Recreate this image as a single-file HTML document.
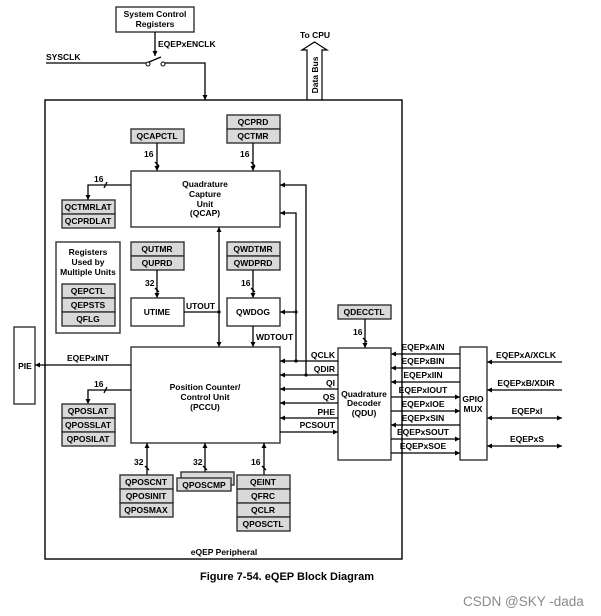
<!DOCTYPE html>
<html><head><meta charset="utf-8"><style>
html,body{margin:0;padding:0;background:#fff;}
svg{display:block;}
text{font-family:"Liberation Sans",Arial,sans-serif;font-weight:bold;font-size:8.5px;fill:#000;}
.r{fill:#d9d9d9;stroke:#333;stroke-width:1.4;}
.w{fill:#fff;stroke:#333;stroke-width:1.4;}
.l{stroke:#000;stroke-width:1.3;fill:none;}
</style></head><body>
<svg width="601" height="616" viewBox="0 0 601 616" xmlns="http://www.w3.org/2000/svg">
<defs>
<marker id="a" viewBox="0 0 10 10" refX="10" refY="5" markerWidth="5" markerHeight="5" orient="auto-start-reverse" markerUnits="userSpaceOnUse"><path d="M0,0 L10,5 L0,10 z" fill="#000"/></marker>
</defs>
<rect class="w" x="116" y="7" width="78" height="25"/>
<text x="155" y="17" text-anchor="middle">System Control</text>
<text x="155" y="27" text-anchor="middle">Registers</text>
<line class="l" x1="155" y1="32" x2="155" y2="56" marker-end="url(#a)"/>
<text x="158" y="47">EQEPxENCLK</text>
<text x="46" y="60">SYSCLK</text>
<line class="l" x1="46" y1="63" x2="146" y2="63"/>
<circle cx="148" cy="64" r="2" fill="#fff" stroke="#000"/>
<circle cx="163" cy="64" r="2" fill="#fff" stroke="#000"/>
<line class="l" x1="149" y1="62" x2="161" y2="57"/>
<polyline class="l" points="165,63 205,63 205,100" marker-end="url(#a)"/>
<path d="M307,100 L307,50 L302,50 L314.5,42 L327,50 L322,50 L322,100" fill="#fff" stroke="#000" stroke-width="1.2"/>
<text x="315" y="38" text-anchor="middle">To CPU</text>
<text transform="translate(318,75) rotate(-90)" text-anchor="middle">Data Bus</text>
<rect x="45" y="100" width="357" height="459" fill="none" stroke="#000" stroke-width="1.4"/>
<text x="224" y="555" text-anchor="middle">eQEP Peripheral</text>
<rect class="r" x="131" y="129" width="53" height="14"/><text x="157" y="139" text-anchor="middle">QCAPCTL</text>
<rect class="r" x="227" y="115" width="53" height="14"/><text x="253" y="125" text-anchor="middle">QCPRD</text>
<rect class="r" x="227" y="129" width="53" height="14"/><text x="253" y="139" text-anchor="middle">QCTMR</text>
<line class="l" x1="157" y1="143" x2="157" y2="171" marker-end="url(#a)"/><text x="144" y="157">16</text><line class="l" x1="155" y1="162" x2="159" y2="166"/>
<line class="l" x1="253" y1="143" x2="253" y2="171" marker-end="url(#a)"/><text x="240" y="157">16</text><line class="l" x1="251" y1="162" x2="255" y2="166"/>
<rect class="w" x="131" y="171" width="149" height="56"/>
<text x="205" y="187" text-anchor="middle">Quadrature</text>
<text x="205" y="197" text-anchor="middle">Capture</text>
<text x="205" y="207" text-anchor="middle">Unit</text>
<text x="205" y="216" text-anchor="middle">(QCAP)</text>
<polyline class="l" points="131,185 88,185 88,200" marker-end="url(#a)"/><text x="94" y="182">16</text><line class="l" x1="104" y1="188" x2="107" y2="182"/>
<rect class="r" x="62" y="200" width="53" height="14"/><text x="88" y="210" text-anchor="middle">QCTMRLAT</text>
<rect class="r" x="62" y="214" width="53" height="14"/><text x="88" y="224" text-anchor="middle">QCPRDLAT</text>
<rect class="w" x="56" y="242" width="64" height="91"/>
<text x="88" y="255" text-anchor="middle">Registers</text>
<text x="88" y="265" text-anchor="middle">Used by</text>
<text x="88" y="275" text-anchor="middle">Multiple Units</text>
<rect class="r" x="62" y="284" width="53" height="14"/><text x="88" y="294" text-anchor="middle">QEPCTL</text>
<rect class="r" x="62" y="298" width="53" height="14"/><text x="88" y="308" text-anchor="middle">QEPSTS</text>
<rect class="r" x="62" y="312" width="53" height="14"/><text x="88" y="322" text-anchor="middle">QFLG</text>
<rect class="r" x="131" y="242" width="53" height="14"/><text x="157" y="252" text-anchor="middle">QUTMR</text>
<rect class="r" x="131" y="256" width="53" height="14"/><text x="157" y="266" text-anchor="middle">QUPRD</text>
<line class="l" x1="157" y1="270" x2="157" y2="298" marker-end="url(#a)"/><text x="145" y="286">32</text><line class="l" x1="155" y1="288" x2="159" y2="292"/>
<rect class="w" x="131" y="298" width="53" height="28"/><text x="157" y="315" text-anchor="middle">UTIME</text>
<line class="l" x1="184" y1="312" x2="219" y2="312"/><text x="186" y="309">UTOUT</text>
<line class="l" x1="219" y1="227" x2="219" y2="347" marker-start="url(#a)" marker-end="url(#a)"/>
<circle cx="219" cy="312" r="1.6"/>
<rect class="r" x="227" y="242" width="53" height="14"/><text x="253" y="252" text-anchor="middle">QWDTMR</text>
<rect class="r" x="227" y="256" width="53" height="14"/><text x="253" y="266" text-anchor="middle">QWDPRD</text>
<line class="l" x1="253" y1="270" x2="253" y2="298" marker-end="url(#a)"/><text x="241" y="286">16</text><line class="l" x1="251" y1="288" x2="255" y2="292"/>
<rect class="w" x="227" y="298" width="53" height="28"/><text x="253" y="315" text-anchor="middle">QWDOG</text>
<line class="l" x1="253" y1="326" x2="253" y2="347" marker-end="url(#a)"/><text x="256" y="340">WDTOUT</text>
<polyline class="l" points="306,375 306,185 280,185" marker-end="url(#a)"/>
<polyline class="l" points="296,361 296,213 280,213" marker-end="url(#a)"/>
<line class="l" x1="296" y1="312" x2="280" y2="312" marker-end="url(#a)"/>
<circle cx="296" cy="312" r="1.6"/><circle cx="296" cy="361" r="1.6"/><circle cx="306" cy="375" r="1.6"/>
<rect class="w" x="131" y="347" width="149" height="96"/>
<text x="205" y="390" text-anchor="middle">Position Counter/</text>
<text x="205" y="400" text-anchor="middle">Control Unit</text>
<text x="205" y="410" text-anchor="middle">(PCCU)</text>
<rect class="w" x="14" y="327" width="21" height="77"/><text x="25" y="369" text-anchor="middle">PIE</text>
<line class="l" x1="131" y1="365" x2="35" y2="365" marker-end="url(#a)"/><text x="67" y="361">EQEPxINT</text>
<polyline class="l" points="131,390 88,390 88,404" marker-end="url(#a)"/><text x="94" y="387">16</text><line class="l" x1="104" y1="393" x2="107" y2="387"/>
<rect class="r" x="62" y="404" width="53" height="14"/><text x="88" y="414" text-anchor="middle">QPOSLAT</text>
<rect class="r" x="62" y="418" width="53" height="14"/><text x="88" y="428" text-anchor="middle">QPOSSLAT</text>
<rect class="r" x="62" y="432" width="53" height="14"/><text x="88" y="442" text-anchor="middle">QPOSILAT</text>
<line class="l" x1="147" y1="475" x2="147" y2="443" marker-end="url(#a)"/><text x="134" y="465">32</text><line class="l" x1="145" y1="466" x2="149" y2="470"/>
<rect class="r" x="120" y="475" width="53" height="14"/><text x="146" y="485" text-anchor="middle">QPOSCNT</text>
<rect class="r" x="120" y="489" width="53" height="14"/><text x="146" y="499" text-anchor="middle">QPOSINIT</text>
<rect class="r" x="120" y="503" width="53" height="14"/><text x="146" y="513" text-anchor="middle">QPOSMAX</text>
<line class="l" x1="205" y1="472" x2="205" y2="443" marker-end="url(#a)"/><text x="193" y="465">32</text><line class="l" x1="203" y1="466" x2="207" y2="470"/>
<rect class="r" x="181" y="472" width="53" height="13"/>
<rect class="r" x="177" y="478" width="54" height="13"/><text x="204" y="488" text-anchor="middle">QPOSCMP</text>
<line class="l" x1="264" y1="475" x2="264" y2="443" marker-end="url(#a)"/><text x="251" y="465">16</text><line class="l" x1="262" y1="466" x2="266" y2="470"/>
<rect class="r" x="237" y="475" width="53" height="14"/><text x="263" y="485" text-anchor="middle">QEINT</text>
<rect class="r" x="237" y="489" width="53" height="14"/><text x="263" y="499" text-anchor="middle">QFRC</text>
<rect class="r" x="237" y="503" width="53" height="14"/><text x="263" y="513" text-anchor="middle">QCLR</text>
<rect class="r" x="237" y="517" width="53" height="14"/><text x="263" y="527" text-anchor="middle">QPOSCTL</text>
<rect class="r" x="338" y="305" width="53" height="14"/><text x="364" y="315" text-anchor="middle">QDECCTL</text>
<line class="l" x1="365" y1="319" x2="365" y2="348" marker-end="url(#a)"/><text x="353" y="335">16</text><line class="l" x1="363" y1="338" x2="367" y2="342"/>
<rect class="w" x="338" y="348" width="53" height="112"/>
<text x="364" y="397" text-anchor="middle">Quadrature</text>
<text x="364" y="406" text-anchor="middle">Decoder</text>
<text x="364" y="416" text-anchor="middle">(QDU)</text>
<line class="l" x1="338" y1="361" x2="280" y2="361" marker-end="url(#a)"/><text x="335" y="358" text-anchor="end">QCLK</text>
<line class="l" x1="338" y1="375" x2="280" y2="375" marker-end="url(#a)"/><text x="335" y="372" text-anchor="end">QDIR</text>
<line class="l" x1="338" y1="389" x2="280" y2="389" marker-end="url(#a)"/><text x="335" y="386" text-anchor="end">QI</text>
<line class="l" x1="338" y1="403" x2="280" y2="403" marker-end="url(#a)"/><text x="335" y="400" text-anchor="end">QS</text>
<line class="l" x1="338" y1="418" x2="280" y2="418" marker-end="url(#a)"/><text x="335" y="415" text-anchor="end">PHE</text>
<line class="l" x1="280" y1="432" x2="338" y2="432" marker-end="url(#a)"/><text x="335" y="428" text-anchor="end">PCSOUT</text>
<rect class="w" x="460" y="347" width="27" height="113"/>
<text x="473" y="402" text-anchor="middle">GPIO</text>
<text x="473" y="412" text-anchor="middle">MUX</text>
<line class="l" x1="460" y1="354" x2="391" y2="354" marker-end="url(#a)"/><text x="423" y="350" text-anchor="middle">EQEPxAIN</text>
<line class="l" x1="460" y1="368" x2="391" y2="368" marker-end="url(#a)"/><text x="423" y="364" text-anchor="middle">EQEPxBIN</text>
<line class="l" x1="460" y1="382" x2="391" y2="382" marker-end="url(#a)"/><text x="423" y="378" text-anchor="middle">EQEPxIIN</text>
<line class="l" x1="391" y1="397" x2="460" y2="397" marker-end="url(#a)"/><text x="423" y="393" text-anchor="middle">EQEPxIOUT</text>
<line class="l" x1="391" y1="411" x2="460" y2="411" marker-end="url(#a)"/><text x="423" y="407" text-anchor="middle">EQEPxIOE</text>
<line class="l" x1="460" y1="425" x2="391" y2="425" marker-end="url(#a)"/><text x="423" y="421" text-anchor="middle">EQEPxSIN</text>
<line class="l" x1="391" y1="439" x2="460" y2="439" marker-end="url(#a)"/><text x="423" y="435" text-anchor="middle">EQEPxSOUT</text>
<line class="l" x1="391" y1="453" x2="460" y2="453" marker-end="url(#a)"/><text x="423" y="449" text-anchor="middle">EQEPxSOE</text>
<line class="l" x1="562" y1="362" x2="487" y2="362" marker-end="url(#a)"/><text x="526" y="358" text-anchor="middle">EQEPxA/XCLK</text>
<line class="l" x1="562" y1="390" x2="487" y2="390" marker-end="url(#a)"/><text x="526" y="386" text-anchor="middle">EQEPxB/XDIR</text>
<line class="l" x1="487" y1="418" x2="562" y2="418" marker-start="url(#a)" marker-end="url(#a)"/><text x="527" y="414" text-anchor="middle">EQEPxI</text>
<line class="l" x1="487" y1="446" x2="562" y2="446" marker-start="url(#a)" marker-end="url(#a)"/><text x="527" y="442" text-anchor="middle">EQEPxS</text>
<text x="200" y="580" style="font-size:11px">Figure 7-54. eQEP Block Diagram</text>
<text x="463" y="606" style="font-size:13.5px;font-weight:normal;fill:#8a8a8a">CSDN @SKY -dada</text>
</svg>
</body></html>
